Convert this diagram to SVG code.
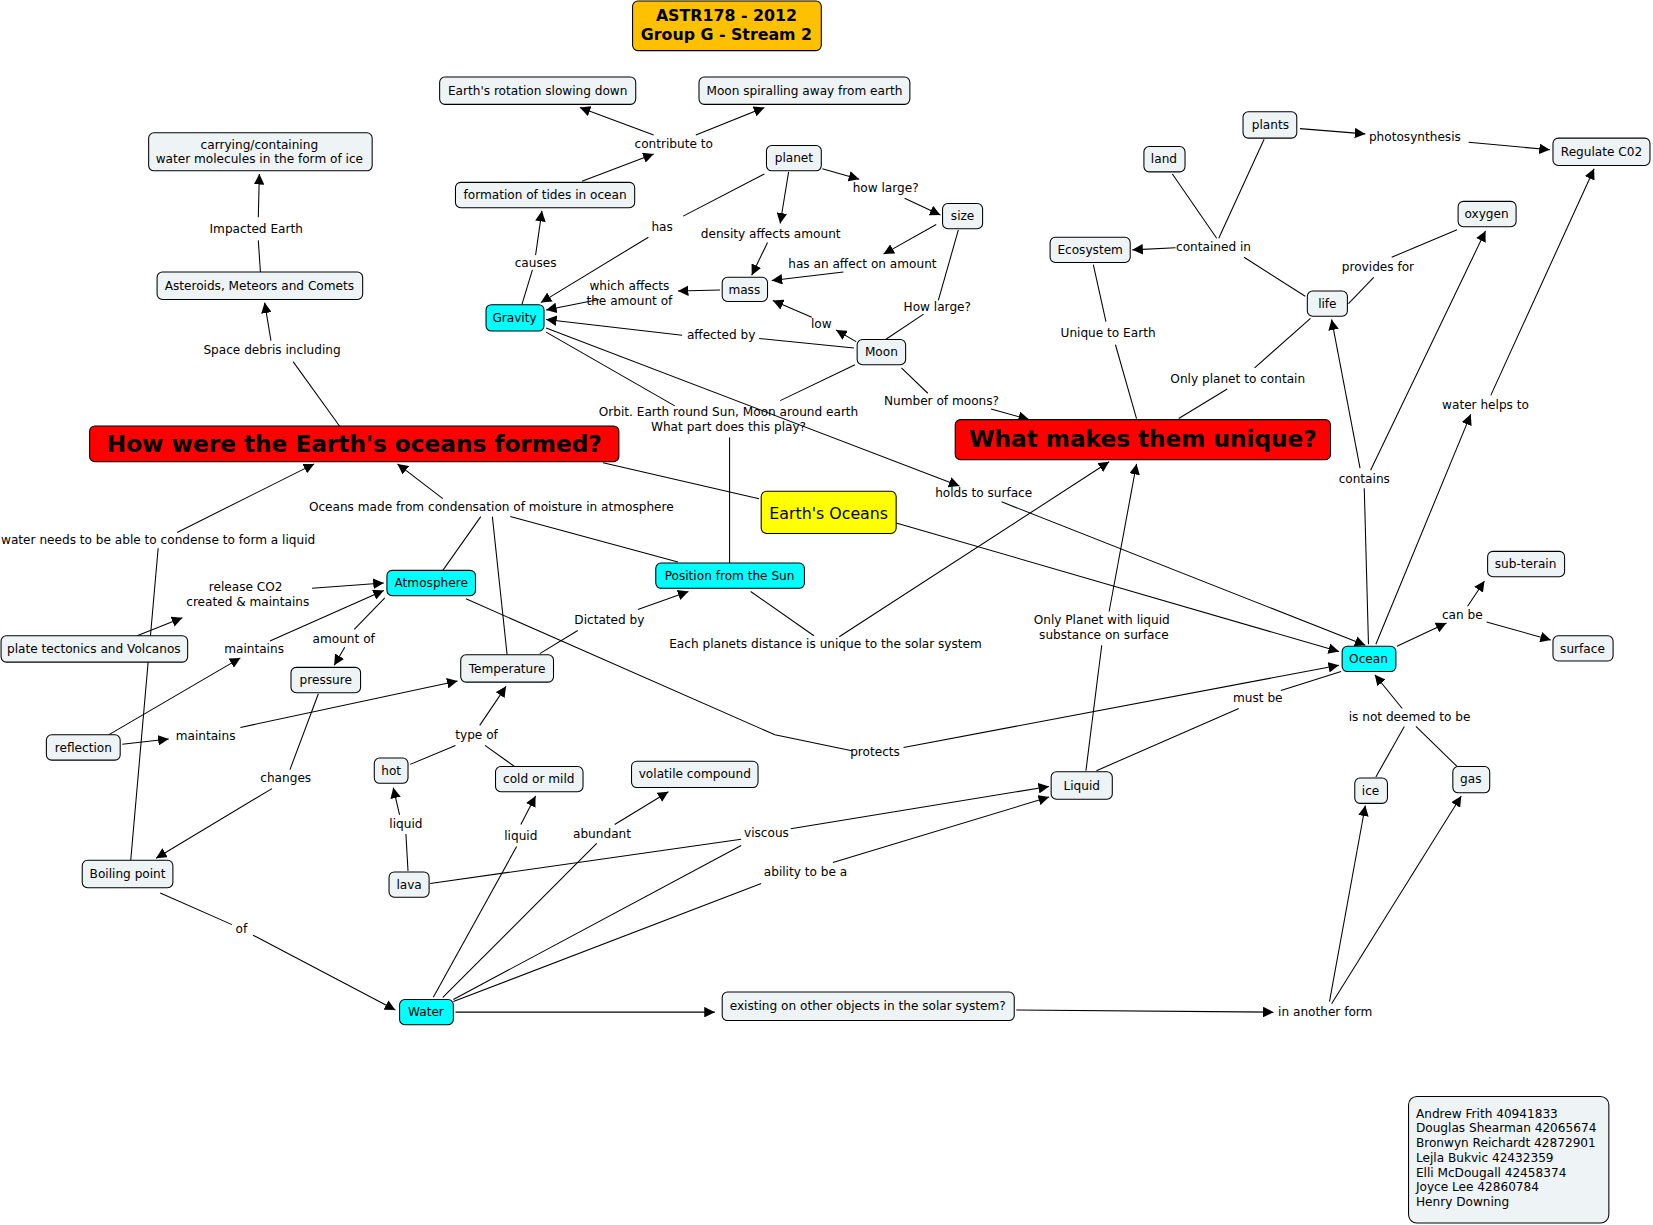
<svg xmlns="http://www.w3.org/2000/svg" width="1653" height="1225" viewBox="0 0 1653 1225">
<style>
text{font-family:"DejaVu Sans",Verdana,sans-serif;font-size:11.5px;fill:#000;text-anchor:middle}
.n{fill:#EEF3F5;stroke:#000;stroke-width:1}
.c{fill:#00FFFF;stroke:#000}
.r{fill:#FF0000;stroke:#000}
.big{font-size:22px;font-weight:bold}
.t{font-size:15px;font-weight:bold}
#conn line,#conn polyline{stroke:#000;stroke-width:1;fill:none}
.a{marker-end:url(#ar)}
</style>
<defs><marker id="ar" viewBox="0 0 10 10" refX="10" refY="5" markerWidth="10" markerHeight="10" markerUnits="userSpaceOnUse" orient="auto"><path d="M0,0L10,5L0,10z" fill="#000"/></marker></defs>
<rect width="1653" height="1225" fill="#fff"/>
<g transform="scale(1.0543)">
<g id="conn">
<line x1="620" y1="128" x2="550" y2="102" class="a"/><line x1="660" y1="128" x2="725" y2="102" class="a"/>
<line x1="552" y1="172" x2="620" y2="146" class="a"/>
<line x1="495" y1="289" x2="505" y2="256"/><line x1="508" y1="242" x2="514" y2="200" class="a"/>
<line x1="725" y1="165" x2="648" y2="205"/><line x1="615" y1="225" x2="513" y2="287" class="a"/>
<line x1="748" y1="163" x2="740" y2="212" class="a"/><line x1="728" y1="230" x2="713" y2="261" class="a"/>
<line x1="780" y1="160" x2="815" y2="170" class="a"/><line x1="858" y1="188" x2="892" y2="204" class="a"/>
<line x1="888" y1="213" x2="838" y2="241" class="a"/><line x1="800" y1="258" x2="732" y2="266" class="a"/>
<line x1="909" y1="218" x2="890" y2="285"/><line x1="876" y1="298" x2="840" y2="322"/>
<line x1="812" y1="324" x2="793" y2="313" class="a"/><line x1="770" y1="301" x2="733" y2="285" class="a"/>
<line x1="683" y1="275" x2="643" y2="276" class="a"/><line x1="568" y1="284" x2="518" y2="294" class="a"/>
<line x1="810" y1="330" x2="720" y2="321"/><line x1="647" y1="318" x2="518" y2="303" class="a"/>
<line x1="811" y1="346" x2="740" y2="380"/><line x1="692" y1="415" x2="692" y2="534"/>
<line x1="855" y1="349" x2="880" y2="373"/><line x1="940" y1="388" x2="976" y2="398" class="a"/>
<line x1="518" y1="315" x2="640" y2="385"/>
<line x1="518" y1="311" x2="910" y2="461" class="a"/><line x1="950" y1="476" x2="1295" y2="612" class="a"/>
<line x1="247" y1="258" x2="245" y2="228"/><line x1="245" y1="206" x2="246" y2="165" class="a"/>
<line x1="322" y1="404" x2="278" y2="343"/><line x1="257" y1="323" x2="251" y2="287" class="a"/>
<line x1="720" y1="473" x2="572" y2="439"/>
<line x1="850" y1="496" x2="1270" y2="618" class="a"/>
<line x1="420" y1="473" x2="377" y2="440" class="a"/><line x1="420" y1="541" x2="456" y2="490"/>
<line x1="481" y1="621" x2="467" y2="490"/><line x1="484" y1="490" x2="643" y2="533"/>
<line x1="168" y1="505" x2="298" y2="440" class="a"/><line x1="124" y1="816" x2="150" y2="520"/>
<line x1="130" y1="603" x2="173" y2="586" class="a"/><line x1="296" y1="558" x2="364" y2="553" class="a"/>
<line x1="103" y1="697" x2="228" y2="624" class="a"/><line x1="256" y1="608" x2="364" y2="560" class="a"/>
<line x1="116" y1="706" x2="160" y2="701" class="a"/><line x1="228" y1="690" x2="434" y2="646" class="a"/>
<line x1="365" y1="567" x2="336" y2="597"/><line x1="327" y1="614" x2="317" y2="631" class="a"/>
<line x1="302" y1="658" x2="275" y2="730"/><line x1="258" y1="748" x2="148" y2="814" class="a"/>
<line x1="512" y1="620" x2="548" y2="598"/><line x1="605" y1="578" x2="653" y2="561" class="a"/>
<line x1="712" y1="561" x2="772" y2="603"/><line x1="796" y1="604" x2="1052" y2="438" class="a"/>
<polyline points="442,568 735,697 808,712"/><line x1="857" y1="709" x2="1270" y2="631" class="a"/>
<line x1="389" y1="725" x2="432" y2="707"/><line x1="488" y1="727" x2="460" y2="707"/><line x1="455" y1="688" x2="480" y2="651" class="a"/>
<line x1="387" y1="826" x2="385" y2="791"/><line x1="379" y1="773" x2="373" y2="747" class="a"/>
<line x1="408" y1="838" x2="703" y2="796"/><line x1="750" y1="786" x2="995" y2="746" class="a"/>
<line x1="411" y1="946" x2="490" y2="803"/><line x1="494" y1="782" x2="508" y2="755" class="a"/>
<line x1="420" y1="946" x2="566" y2="800"/><line x1="583" y1="782" x2="634" y2="751" class="a"/>
<line x1="430" y1="948" x2="703" y2="802"/>
<line x1="430" y1="950" x2="722" y2="838"/><line x1="790" y1="818" x2="995" y2="756" class="a"/>
<line x1="152" y1="847" x2="220" y2="877"/><line x1="240" y1="887" x2="375" y2="958" class="a"/>
<line x1="432" y1="960" x2="678" y2="960" class="a"/>
<line x1="964" y1="958" x2="1208" y2="960" class="a"/>
<line x1="1261" y1="950" x2="1295" y2="764" class="a"/><line x1="1263" y1="952" x2="1386" y2="755" class="a"/>
<line x1="1305" y1="737" x2="1332" y2="689"/><line x1="1382" y1="727" x2="1343" y2="689"/><line x1="1330" y1="672" x2="1304" y2="640" class="a"/>
<line x1="1030" y1="731" x2="1045" y2="612"/><line x1="1052" y1="580" x2="1078" y2="440" class="a"/>
<line x1="1040" y1="731" x2="1175" y2="672"/><line x1="1215" y1="655" x2="1272" y2="637"/>
<line x1="1325" y1="613" x2="1372" y2="591" class="a"/><line x1="1392" y1="575" x2="1408" y2="551" class="a"/><line x1="1410" y1="590" x2="1471" y2="607" class="a"/>
<line x1="1298" y1="611" x2="1294" y2="463"/><line x1="1290" y1="444" x2="1263" y2="303" class="a"/><line x1="1300" y1="446" x2="1409" y2="219" class="a"/>
<line x1="1305" y1="611" x2="1395" y2="393" class="a"/><line x1="1414" y1="375" x2="1512" y2="160" class="a"/>
<line x1="1078" y1="397" x2="1058" y2="327"/><line x1="1049" y1="305" x2="1037" y2="251"/>
<line x1="1118" y1="397" x2="1164" y2="369"/><line x1="1190" y1="349" x2="1243" y2="302"/>
<line x1="1238" y1="281" x2="1180" y2="244"/><line x1="1115" y1="235" x2="1074" y2="237" class="a"/>
<line x1="1112" y1="165" x2="1154" y2="226"/><line x1="1199" y1="132" x2="1156" y2="226"/>
<line x1="1233" y1="122" x2="1295" y2="127" class="a"/><line x1="1393" y1="135" x2="1470" y2="142" class="a"/>
<line x1="1279" y1="288" x2="1303" y2="263"/><line x1="1320" y1="244" x2="1382" y2="218"/>
</g>
<g id="labels">
<text x="639" y="140">contribute to</text><text x="628" y="219">has</text><text x="840" y="182">how large?</text>
<text x="731" y="226">density affects amount</text><text x="818" y="254">has an affect on amount</text>
<text x="597" y="275">which affects</text><text x="597" y="289">the amount of</text><text x="508" y="253">causes</text>
<text x="779" y="311">low</text><text x="684" y="322">affected by</text><text x="889" y="295">How large?</text>
<text x="243" y="221">Impacted Earth</text><text x="258" y="336">Space debris including</text><text x="893" y="384">Number of moons?</text>
<text x="691" y="395">Orbit. Earth round Sun, Moon around earth</text><text x="691" y="409">What part does this play?</text>
<text x="933" y="471">holds to surface</text><text x="1151" y="238">contained in</text><text x="1342" y="134">photosynthesis</text>
<text x="1307" y="257">provides for</text><text x="1051" y="320">Unique to Earth</text><text x="1174" y="363">Only planet to contain</text>
<text x="1409" y="388">water helps to</text><text x="1294" y="458">contains</text>
<text x="466" y="485">Oceans made from condensation of moisture in atmosphere</text>
<text x="150" y="516">water needs to be able to condense to form a liquid</text>
<text x="233" y="561">release CO2</text><text x="235" y="575">created &amp; maintains</text>
<text x="241" y="619">maintains</text><text x="326" y="610">amount of</text><text x="578" y="592">Dictated by</text>
<text x="783" y="615">Each planets distance is unique to the solar system</text>
<text x="1045" y="592">Only Planet with liquid</text><text x="1047" y="606">substance on surface</text>
<text x="1387" y="587">can be</text><text x="1193" y="666">must be</text><text x="1337" y="684">is not deemed to be</text>
<text x="195" y="702">maintains</text><text x="452" y="701">type of</text><text x="830" y="717">protects</text>
<text x="271" y="742">changes</text><text x="385" y="785">liquid</text><text x="494" y="797">liquid</text>
<text x="571" y="795">abundant</text><text x="727" y="794">viscous</text><text x="764" y="831">ability to be a</text>
<text x="229" y="885">of</text><text x="1257" y="964">in another form</text>
</g>
<g id="title"><rect x="600" y="1" width="179" height="47" rx="5" fill="#FFC000" stroke="#000"/><text class="t" x="689" y="20">ASTR178 - 2012</text><text class="t" x="689" y="38">Group G - Stream 2</text></g>
<g id="n1"><rect class="n" x="417" y="73" width="186" height="26" rx="5"/><text x="510" y="90">Earth's rotation slowing down</text></g>
<g id="n2"><rect class="n" x="663" y="73" width="200" height="26" rx="5"/><text x="763" y="90">Moon spiralling away from earth</text></g>
<g id="n3"><rect class="n" x="141" y="126" width="212" height="36" rx="5"/><text x="246" y="141">carrying/containing</text><text x="246" y="155">water molecules in the form of ice</text></g>
<g id="n4"><rect class="n" x="432" y="173" width="170" height="24" rx="5"/><text x="517" y="189">formation of tides in ocean</text></g>
<g id="n5"><rect class="n" x="727" y="138" width="52" height="24" rx="5"/><text x="753" y="154">planet</text></g>
<g id="n6"><rect class="n" x="894" y="193" width="38" height="24" rx="5"/><text x="913" y="209">size</text></g>
<g id="n7"><rect class="n" x="1085" y="139" width="39" height="24" rx="5"/><text x="1104" y="155">land</text></g>
<g id="n8"><rect class="n" x="1179" y="106" width="51" height="25" rx="5"/><text x="1205" y="122">plants</text></g>
<g id="n9"><rect class="n" x="1473" y="131" width="92" height="26" rx="5"/><text x="1519" y="148">Regulate C02</text></g>
<g id="n10"><rect class="n" x="1383" y="191" width="55" height="24" rx="5"/><text x="1410" y="207">oxygen</text></g>
<g id="n11"><rect class="n" x="996" y="225" width="76" height="24" rx="5"/><text x="1034" y="241">Ecosystem</text></g>
<g id="n12"><rect class="n" x="1240" y="276" width="38" height="24" rx="5"/><text x="1259" y="292">life</text></g>
<g id="n13"><rect class="n" x="149" y="258" width="195" height="26" rx="5"/><text x="246" y="275">Asteroids, Meteors and Comets</text></g>
<g id="n14"><rect class="c" x="461" y="289" width="55" height="25" rx="5"/><text x="488" y="305">Gravity</text></g>
<g id="n15"><rect class="n" x="685" y="263" width="43" height="23" rx="5"/><text x="706" y="279">mass</text></g>
<g id="n16"><rect class="n" x="813" y="322" width="46" height="24" rx="5"/><text x="836" y="338">Moon</text></g>
<g id="n17"><rect class="r" x="85" y="404" width="502" height="34" rx="5"/><text class="big" x="336" y="429">How were the Earth's oceans formed?</text></g>
<g id="n18"><rect class="r" x="906" y="398" width="356" height="38" rx="5"/><text class="big" x="1084" y="424">What makes them unique?</text></g>
<g id="n19"><rect x="722" y="466" width="128" height="40" rx="5" fill="#FFFF00" stroke="#000"/><text x="786" y="492" style="font-size:15px">Earth's Oceans</text></g>
<g id="n20"><rect class="c" x="367" y="541" width="84" height="24" rx="5"/><text x="409" y="557">Atmosphere</text></g>
<g id="n21"><rect class="c" x="622" y="534" width="141" height="24" rx="5"/><text x="692" y="550">Position from the Sun</text></g>
<g id="n22"><rect class="n" x="1" y="603" width="177" height="25" rx="5"/><text x="89" y="619">plate tectonics and Volcanos</text></g>
<g id="n23"><rect class="n" x="276" y="633" width="66" height="24" rx="5"/><text x="309" y="649">pressure</text></g>
<g id="n24"><rect class="n" x="437" y="621" width="88" height="26" rx="5"/><text x="481" y="638">Temperature</text></g>
<g id="n25"><rect class="c" x="1273" y="613" width="51" height="24" rx="5"/><text x="1298" y="629">Ocean</text></g>
<g id="n26"><rect class="n" x="1411" y="523" width="73" height="24" rx="5"/><text x="1447" y="539">sub-terain</text></g>
<g id="n27"><rect class="n" x="1473" y="603" width="57" height="24" rx="5"/><text x="1501" y="619">surface</text></g>
<g id="n28"><rect class="n" x="44" y="697" width="70" height="24" rx="5"/><text x="79" y="713">reflection</text></g>
<g id="n29"><rect class="n" x="355" y="719" width="32" height="24" rx="5"/><text x="371" y="735">hot</text></g>
<g id="n30"><rect class="n" x="470" y="727" width="83" height="24" rx="5"/><text x="511" y="743">cold or mild</text></g>
<g id="n31"><rect class="n" x="599" y="722" width="120" height="25" rx="5"/><text x="659" y="738">volatile compound</text></g>
<g id="n32"><rect class="n" x="997" y="732" width="58" height="26" rx="5"/><text x="1026" y="749">Liquid</text></g>
<g id="n33"><rect class="n" x="1285" y="738" width="31" height="24" rx="5"/><text x="1300" y="754">ice</text></g>
<g id="n34"><rect class="n" x="1378" y="727" width="35" height="25" rx="5"/><text x="1395" y="743">gas</text></g>
<g id="n35"><rect class="n" x="369" y="827" width="38" height="24" rx="5"/><text x="388" y="843">lava</text></g>
<g id="n36"><rect class="n" x="78" y="816" width="86" height="26" rx="5"/><text x="121" y="833">Boiling point</text></g>
<g id="n37"><rect class="c" x="379" y="948" width="51" height="24" rx="5"/><text x="404" y="964">Water</text></g>
<g id="n38"><rect class="n" x="685" y="941" width="277" height="27" rx="5"/><text x="823" y="958">existing on other objects in the solar system?</text></g>
<g id="credits"><rect class="n" x="1336" y="1040" width="190" height="120" rx="8"/>
<text x="1343" y="1060" style="text-anchor:start">Andrew Frith 40941833</text>
<text x="1343" y="1074" style="text-anchor:start">Douglas Shearman 42065674</text>
<text x="1343" y="1088" style="text-anchor:start">Bronwyn Reichardt 42872901</text>
<text x="1343" y="1102" style="text-anchor:start">Lejla Bukvic 42432359</text>
<text x="1343" y="1116" style="text-anchor:start">Elli McDougall 42458374</text>
<text x="1343" y="1130" style="text-anchor:start">Joyce Lee 42860784</text>
<text x="1343" y="1144" style="text-anchor:start">Henry Downing</text></g>
</g>
</svg>
